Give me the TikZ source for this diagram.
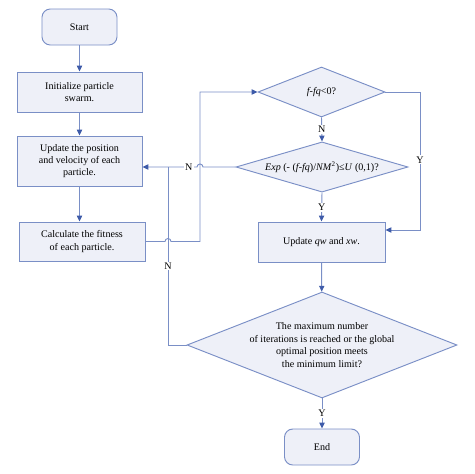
\documentclass[tikz,border=0pt]{standalone}
\usepackage[svgnames]{xcolor}
\usepackage{fontspec}
\setmainfont{Liberation Serif}
\usepackage{tikz}
\usetikzlibrary{
  shapes.geometric,
  arrows.meta,
  calc}

\definecolor{boxline}{HTML}{7A8FC6}
\definecolor{boxfill}{HTML}{EEF0F8}
\definecolor{tipblue}{HTML}{3E5BA9}

\begin{document}
\begin{tikzpicture}[x=0.03cm, y=0.03cm, font=\fontsize{8.6}{10.6}\selectfont]
\tikzset{
  flow box/.style={draw=boxline, fill=boxfill, line width=0.8pt, align=center, inner sep=0pt},
  flow rect/.style={flow box, rectangle, minimum width=3.75cm},
  flow end/.style={flow box, rectangle, rounded corners=0.25cm, minimum width=2.25cm, minimum height=1.08cm},
  flow test/.style={flow box, diamond, aspect=2.5, inner sep=-2pt},
  flow line/.style={draw=boxline, line width=0.8pt},
  flow arrow/.style={flow line, -{Triangle[length=5pt, width=4.5pt, color=tipblue]}},
  flow label/.style={fill=white, inner sep=1pt},
}
\useasboundingbox (0,0) rectangle (474,-474);

\node[flow end] (start) at (79.5,-27) {Start};
\node[flow rect, minimum height=1.2cm] (init) at (79.5,-92) {Initialize particle\\swarm.};
\node[flow rect, minimum height=1.5cm] (update) at (79.5,-161) {Update the position\\and velocity of each\\particle.};
\node[flow rect, minimum width=3.78cm, minimum height=1.17cm] (calc) at (82,-241.5) {Calculate the fitness\\of each particle.};
\node[flow test, minimum width=3.81cm, minimum height=1.5cm] (sign) at (321.5,-92) {\textit{f-fq}<0?};
\node[flow test, minimum width=5.16cm, minimum height=1.5cm] (accept) at (322,-167) {\textit{Exp} (- (\textit{f-fq})/\textit{NM}\textsuperscript{2})≤\textit{U} (0,1)?};
\node[flow rect, minimum width=3.81cm, minimum height=1.2cm] (renew) at (321.5,-242) {Update \textit{qw} and \textit{xw}.};
\node[flow test, minimum width=8.1cm, minimum height=3.18cm] (stop) at (322,-345) {The maximum number\\of iterations is reached or the global\\optimal position meets\\the minimum limit?};
\node[flow end] (finish) at (322,-447) {End};

\coordinate (nx) at (168,-167);
\coordinate (cx) at (200,-92);
\coordinate (yx) at (420,-230);

\draw[flow arrow] (start) -- (init);
\draw[flow arrow] (init) -- (update);
\draw[flow arrow] (update.south) -- (update.south |- calc.north);
% fitness goes on to the first test, hopping over the N line
\draw[flow arrow] (calc.east) -- ($(calc.east -| nx)+(-3,0)$) arc[start angle=180, end angle=0, radius=0.09cm] -- (calc.east -| cx) -- (cx) -- (sign.west);
\draw[flow arrow] (sign.south) -- node[flow label] {N} (accept.north);
\draw[flow arrow] (sign.east) -| node[flow label, pos=0.746] {Y} (yx) -- (yx -| renew.east);
\draw[flow arrow] (accept.south) -- node[flow label] {Y} (renew.north);
\draw[flow arrow] (accept.west) -- ($(accept.west -| cx)+(3,0)$) arc[start angle=0, end angle=180, radius=0.09cm] -- node[flow label, pos=0.15] {N} (accept.west -| update.east);
\draw[flow arrow] (renew) -- (stop);
\draw[flow arrow] (stop) -- node[flow label] {Y} (finish);
\draw[flow line] (stop.west) -| node[flow label, pos=0.722] {N} (nx);
\end{tikzpicture}
\end{document}
